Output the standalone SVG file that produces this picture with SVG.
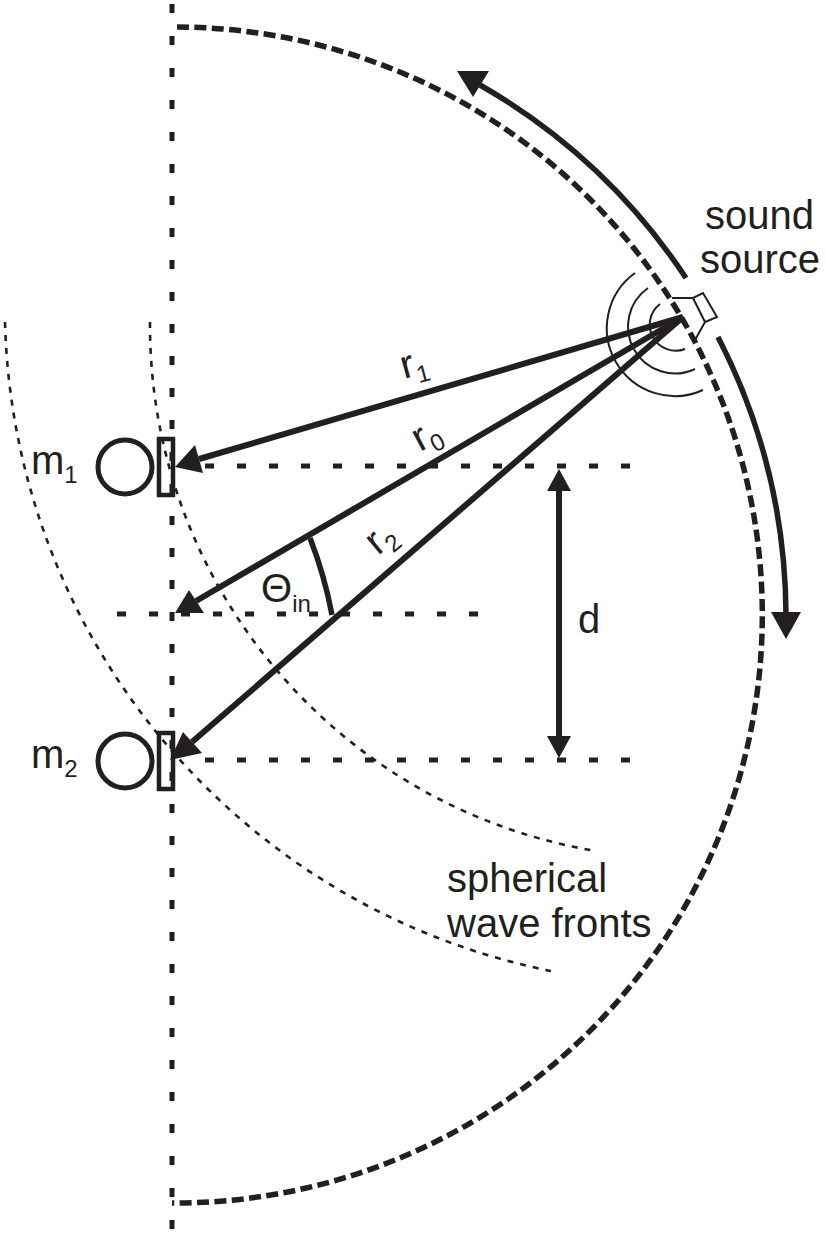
<svg xmlns="http://www.w3.org/2000/svg" width="825" height="1242" viewBox="0 0 825 1242">
<style>
text{font-family:"Liberation Sans",Arial,sans-serif;font-size:40px;fill:#231f20}
.sub{font-size:24px}
.s{fill:none;stroke:#231f20}
.h{fill:#231f20}
.axis{stroke-width:5;stroke-dasharray:9 23}
.big{stroke-width:5.5;stroke-dasharray:12 5.4}
.wave{stroke-width:2.6;stroke-dasharray:6 7}
.solid{stroke-width:5.5}
.arrow{stroke-width:6}
.thin{stroke-width:2}
</style>
<g id="connectors">
<path id="axis-vertical" class="s axis" d="M172 -28V1232"/>
<path id="axis-m1" class="s axis" d="M205 466H640"/>
<path id="axis-mid" class="s axis" d="M117 614H480"/>
<path id="axis-m2" class="s axis" d="M205 760H640"/>
<path id="outer-arc" class="s big" d="M177 27A588 588 0 0 1 172 1203"/>
<path id="wave-1" class="s wave" d="M150 322A533 533 0 0 0 596 851"/>
<path id="wave-2" class="s wave" d="M5 322A680 680 0 0 0 551 971"/>
<path id="arrow-up" class="s solid" d="M686 278A614 614 0 0 0 480 85"/>
<polygon class="h" points="457,71 489,71 473,97"/>
<path id="arrow-down" class="s solid" d="M718 337A614 614 0 0 1 786 615"/>
<polygon class="h" points="771,612 801,612 786,639"/>
<path id="r1" class="s arrow" d="M683 317L199 459"/>
<polygon class="h" points="175,467 195,445 203,473"/>
<path id="r0" class="s arrow" d="M683 317L196 601"/>
<polygon class="h" points="175,613 189,590 204,613"/>
<path id="r2" class="s arrow" d="M683 317L192 742"/>
<polygon class="h" points="170,760 183,732 202,753"/>
<path id="angle" class="s solid" d="M310 538A433 433 0 0 1 332 615"/>
<path id="d-arrow" class="s arrow" d="M559 488V740"/>
<polygon class="h" points="559,469 547,491 571,491"/>
<polygon class="h" points="559,758 547,736 571,736"/>
</g>
<g id="source">
<path class="s thin" d="M635 273A68 68 0 0 0 703 390M648 288A47 47 0 0 0 695 369M660 304A26 26 0 0 0 685 349"/>
<path class="s thin" d="M672 298L693 298L703 293L717 317L705 322L695 340M693 298L705 322"/>
<text x="705" y="229">sound</text>
<text x="700" y="273">source</text>
</g>
<g id="m1">
<circle class="s" style="stroke-width:5" cx="125" cy="467" r="27"/>
<rect class="s" style="stroke-width:4.5" x="159" y="439" width="14" height="56"/>
<text x="31" y="474">m<tspan class="sub" dy="9">1</tspan></text>
</g>
<g id="m2">
<circle class="s" style="stroke-width:5" cx="125" cy="761" r="27"/>
<rect class="s" style="stroke-width:4.5" x="159" y="733" width="14" height="56"/>
<text x="31" y="768">m<tspan class="sub" dy="9">2</tspan></text>
</g>
<g id="labels">
<text transform="translate(404 379) rotate(-15)">r<tspan class="sub" dy="8">1</tspan></text>
<text transform="translate(420 452) rotate(-28)">r<tspan class="sub" dy="8">0</tspan></text>
<text transform="translate(378 556) rotate(-40)">r<tspan class="sub" dy="8">2</tspan></text>
<text x="261" y="602">Θ<tspan class="sub" dy="10">in</tspan></text>
<text x="578" y="633">d</text>
<text x="447" y="892">spherical</text>
<text x="447" y="937">wave fronts</text>
</g>
</svg>
